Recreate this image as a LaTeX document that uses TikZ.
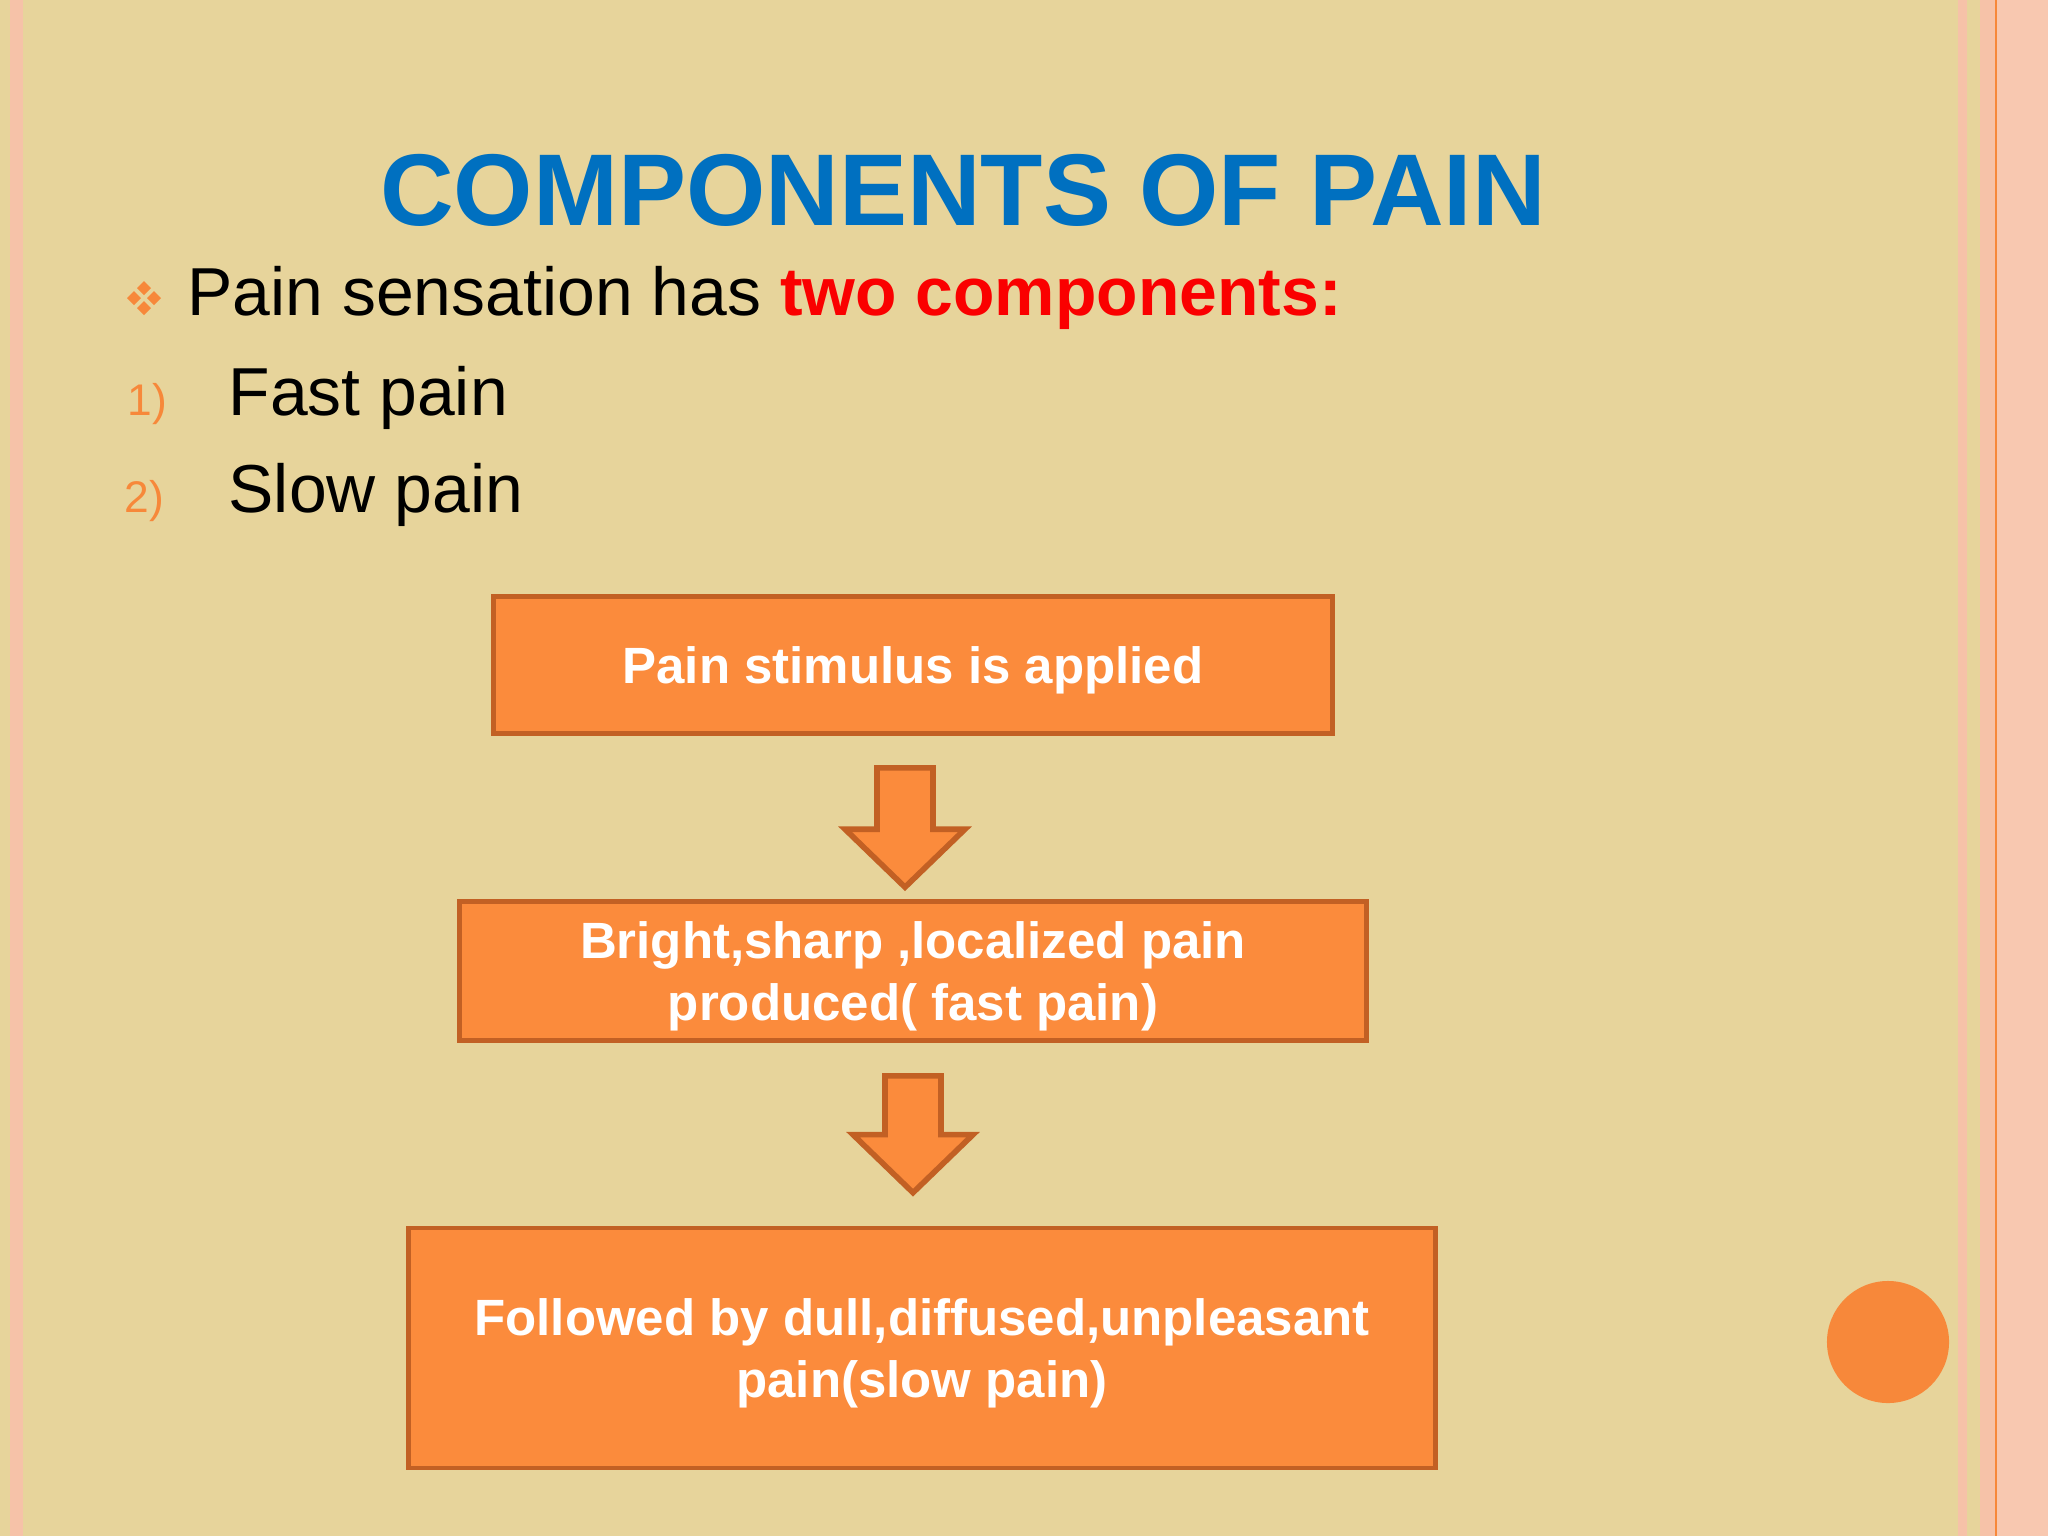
\documentclass[tikz,border=0pt]{standalone}
\usepackage{fontspec}
\setmainfont{Liberation Sans}
\usetikzlibrary{calc}
\definecolor{paper}{RGB}{231,212,155}
\definecolor{rose}{RGB}{246,194,168}
\definecolor{roselight}{RGB}{248,200,176}
\definecolor{boxfill}{RGB}{251,139,60}
\definecolor{boxedge}{RGB}{194,96,36}
\definecolor{titleblue}{RGB}{0,112,192}
\definecolor{accent}{RGB}{247,136,58}
\definecolor{painred}{RGB}{250,0,0}
\tikzset{
  stepbox/.style={draw=boxedge, line width=1.3pt, fill=boxfill, text=white, inner sep=0pt,
    font=\fontsize{14.5}{17.4}\selectfont\bfseries, align=center, text depth=0pt},
  blockarr/.style={draw=boxedge, line width=1.6pt, fill=boxfill, line join=miter},
  listtext/.style={anchor=base west, inner sep=0pt, font=\fontsize{19.3}{23}\selectfont},
  listnum/.style={anchor=base west, inner sep=0pt, text=accent, font=\fontsize{12.6}{15}\selectfont}
}
% block arrow pointing down, from top point #1 to tip #2
\newcommand{\blockdown}[2]{%
  \draw[blockarr] ($(#1)+(-28,0)$) -- ($(#1)+(28,0)$) -- ($(#2)+(28,-58)$) -- ($(#2)+(60,-58)$)
    -- (#2) -- ($(#2)+(-60,-58)$) -- ($(#2)+(-28,-58)$) -- cycle;
}
\begin{document}
\begin{tikzpicture}[x=0.01cm, y=-0.01cm]
  \useasboundingbox (0,0) rectangle (2048,1536);
  % paper and side strips
  \fill[paper] (0,0) rectangle (2048,1536);
  \fill[rose] (10,0) rectangle (23,1536);
  \fill[rose] (1958,0) rectangle (1967,1536);
  \fill[rose] (1980,0) rectangle (1996,1536);
  \fill[roselight] (1996,0) rectangle (2048,1536);
  \draw[accent, line width=0.6pt] (1996,0) -- (1996,1536);

  \node[anchor=base, inner sep=0pt, text=titleblue, font=\fontsize{29}{34}\selectfont\bfseries] (title) at (963,225) {COMPONENTS OF PAIN};

  \coordinate (bul) at (144,298);
  \foreach \dx/\dy in {0/-10, 10/0, 0/10, -10/0}
    \fill[accent] ($(bul)+(\dx,\dy)$) +(0,-7) -- +(7,0) -- +(0,7) -- +(-7,0) -- cycle;
  \node[listtext] (intro) at (187,315) {Pain sensation has \textcolor{painred}{\bfseries two components:}};
  \node[listnum] (n1) at (127,415) {1)};
  \node[listtext] (fast) at (228,415) {Fast pain};
  \node[listnum] (n2) at (124,512) {2)};
  \node[listtext] (slow) at (228,512) {Slow pain};

  % flow
  \node[stepbox, minimum width=8.38cm, minimum height=1.37cm] (stim) at (913,665) {Pain stimulus is applied};
  \node[stepbox, minimum width=9.06cm, minimum height=1.39cm] (fastbox) at (913,971) {Bright,sharp ,localized pain\\produced( fast pain)};
  \node[stepbox, minimum width=10.26cm, minimum height=2.40cm] (slowbox) at (922,1348) {Followed by dull,diffused,unpleasant\\pain(slow pain)};

  \coordinate (a1top) at ($(stim.south)+(-8,32)$);
  \coordinate (a1tip) at ($(fastbox.north)+(-8,-12)$);
  \coordinate (a2top) at ($(fastbox.south)+(0,33)$);
  \coordinate (a2tip) at ($(slowbox.north)+(-9,-33)$);
  \blockdown{a1top}{a1tip}
  \path let \p1=(a2top), \p2=(a2tip) in coordinate (a2tip') at (\x1,\y2);
  \blockdown{a2top}{a2tip'}

  \node[circle, fill=accent, minimum size=1.22cm, inner sep=0pt] (dot) at (1888,1342) {};
\end{tikzpicture}
\end{document}
